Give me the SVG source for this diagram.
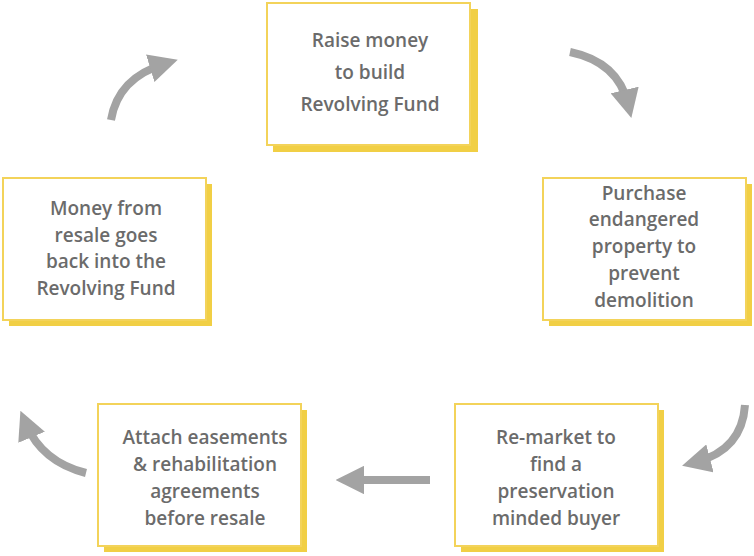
<svg xmlns="http://www.w3.org/2000/svg" width="754" height="556" viewBox="0 0 754 556">
<style>
.sh{fill:#f1cf45}
.bx{fill:#fff;stroke:#f3d35a;stroke-width:2}
text{font-family:"Open Sans","Liberation Sans",sans-serif;font-size:19px;font-weight:600;fill:#6b6b6b;text-anchor:middle}
.ar{fill:none;stroke:#a3a3a3;stroke-width:8}
</style>
<defs><marker id="h" viewBox="0 0 10 10" refX="5" refY="5" markerWidth="3.6" markerHeight="3.6" orient="auto" markerUnits="strokeWidth"><path d="M0,0L10,5L0,10Z" fill="#a3a3a3"/></marker></defs>
<g id="n1"><rect class="sh" x="273" y="9" width="205" height="143"/><rect class="bx" x="267" y="3" width="203" height="142"/><text x="370" y="47">Raise money</text><text x="370" y="79">to build</text><text x="370" y="111">Revolving Fund</text></g>
<g id="n2"><rect class="sh" x="549" y="184" width="203" height="142"/><rect class="bx" x="543" y="178" width="203" height="142"/><text x="644" y="200">Purchase</text><text x="644" y="226">endangered</text><text x="644" y="253">property to</text><text x="644" y="280">prevent</text><text x="644" y="307">demolition</text></g>
<g id="n3"><rect class="sh" x="461" y="410" width="203" height="142"/><rect class="bx" x="455" y="404" width="203" height="142"/><text x="556" y="444">Re-market to</text><text x="556" y="471">find a</text><text x="556" y="498">preservation</text><text x="556" y="525">minded buyer</text></g>
<g id="n4"><rect class="sh" x="104" y="410" width="203" height="142"/><rect class="bx" x="98" y="404" width="203" height="142"/><text x="205" y="444">Attach easements</text><text x="205" y="471">&amp; rehabilitation</text><text x="205" y="498">agreements</text><text x="205" y="525">before resale</text></g>
<g id="n5"><rect class="sh" x="9" y="184" width="203" height="142"/><rect class="bx" x="3" y="178" width="203" height="142"/><text x="106" y="215">Money from</text><text x="106" y="242">resale goes</text><text x="106" y="268">back into the</text><text x="106" y="295">Revolving Fund</text></g>
<g id="connectors">
<path class="ar" d="M570,52 Q618,62 628,104" marker-end="url(#h)"/>
<path class="ar" d="M745,405 Q742,450 696,462" marker-end="url(#h)"/>
<path class="ar" d="M430,480 L350,480" marker-end="url(#h)"/>
<path class="ar" d="M86,473 Q42,462 26,424" marker-end="url(#h)"/>
<path class="ar" d="M111,120 Q118,78 164,64" marker-end="url(#h)"/>
</g>
</svg>
